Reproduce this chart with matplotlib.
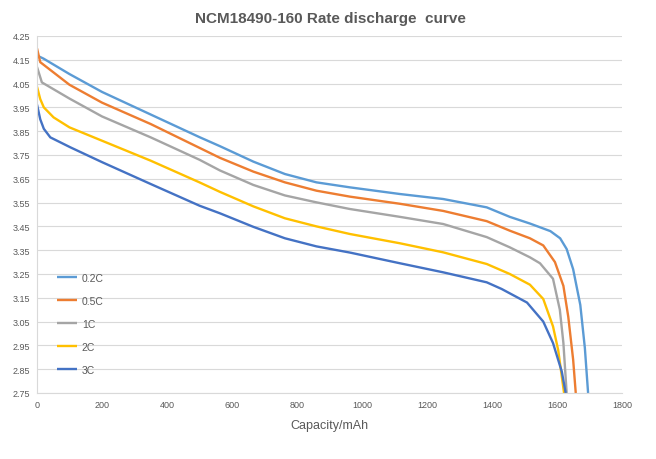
import numpy as np
import matplotlib
matplotlib.use("Agg")
import matplotlib.pyplot as plt

plt.rcParams['font.family'] = ['Liberation Sans', 'DejaVu Sans']

# ---------------------------------------------------------------------------
# Data (capacity in mAh, voltage in V)
# ---------------------------------------------------------------------------

cap_02c = [0, 20, 100, 200, 350, 500, 563, 666, 763, 860, 963, 1117, 1250,
           1384, 1455, 1517, 1580, 1610, 1630, 1650, 1672, 1686, 1696]
v_02c = [4.168, 4.155, 4.09, 4.015, 3.92, 3.825, 3.787, 3.722, 3.67, 3.635,
         3.614, 3.586, 3.565, 3.53, 3.49, 3.462, 3.43, 3.40, 3.355, 3.27,
         3.12, 2.94, 2.75]

cap_05c = [0, 10, 100, 200, 350, 500, 563, 666, 763, 860, 963, 1117, 1250,
           1384, 1455, 1517, 1558, 1594, 1620, 1635, 1650, 1658]
v_05c = [4.198, 4.14, 4.045, 3.97, 3.88, 3.78, 3.738, 3.68, 3.635, 3.60,
         3.575, 3.545, 3.515, 3.472, 3.432, 3.40, 3.37, 3.30, 3.20, 3.07,
         2.89, 2.75]

cap_1c = [0, 15, 100, 200, 350, 500, 563, 666, 763, 860, 963, 1117, 1250,
          1384, 1455, 1517, 1548, 1588, 1609, 1620, 1630]
v_1c = [4.12, 4.055, 3.987, 3.912, 3.824, 3.73, 3.685, 3.624, 3.58, 3.551,
        3.523, 3.49, 3.46, 3.405, 3.362, 3.32, 3.295, 3.23, 3.10, 2.96, 2.75]

cap_2c = [0, 10, 21, 51, 100, 200, 350, 500, 563, 666, 763, 860, 963, 1117,
          1250, 1384, 1455, 1517, 1558, 1588, 1604, 1622]
v_2c = [4.037, 3.985, 3.95, 3.908, 3.866, 3.81, 3.726, 3.635, 3.595, 3.534,
        3.484, 3.45, 3.418, 3.379, 3.341, 3.292, 3.25, 3.205, 3.145, 3.03,
        2.93, 2.75]

cap_3c = [0, 10, 21, 41, 103, 200, 350, 500, 563, 666, 763, 860, 963, 1117,
          1250, 1384, 1430, 1508, 1558, 1588, 1615, 1627]
v_3c = [3.962, 3.90, 3.86, 3.824, 3.782, 3.72, 3.628, 3.537, 3.505, 3.448,
        3.40, 3.366, 3.34, 3.295, 3.257, 3.215, 3.187, 3.13, 3.05, 2.96,
        2.84, 2.75]

labels = ["0.2C", "0.5C", "1C", "2C", "3C"]
colors = ["#5B9BD5", "#ED7D31", "#A5A5A5", "#FFC000", "#4472C4"]

x_ticks = np.arange(0, 1801, 200)
y_ticks = np.arange(2.75, 4.26, 0.1)

# ---------------------------------------------------------------------------
# Plot
# ---------------------------------------------------------------------------

fig = plt.figure(figsize=(6.56, 4.60), dpi=100)
ax = fig.add_axes([0.0564, 0.1435, 0.8916, 0.7761])

series = [(cap_02c, v_02c), (cap_05c, v_05c), (cap_1c, v_1c),
          (cap_2c, v_2c), (cap_3c, v_3c)]
for (cap, v), lab, col in zip(series, labels, colors):
    ax.plot(cap, v, color=col, linewidth=1.7, label=lab,
            solid_joinstyle='round', solid_capstyle='butt')

ax.set_xlim(0, 1800)
ax.set_ylim(2.75, 4.25)
ax.set_xticks(x_ticks)
ax.set_yticks(y_ticks)
ax.set_yticklabels([f"{t:.2f}" for t in y_ticks])
ax.tick_params(length=0, labelsize=6.5, labelcolor="#595959", pad=5)

ax.grid(axis='y', color="#D9D9D9", linewidth=0.8)
ax.set_axisbelow(True)
for side in ['top', 'right']:
    ax.spines[side].set_visible(False)
for side in ['left', 'bottom']:
    ax.spines[side].set_color("#D9D9D9")
    ax.spines[side].set_linewidth(0.8)

ax.set_xlabel("Capacity/mAh", fontsize=9, color="#595959", labelpad=7)
fig.suptitle("NCM18490-160 Rate discharge  curve", fontsize=11,
             fontweight='bold', color="#595959", x=0.503, y=0.975)

ax.legend(loc='upper left', bbox_to_anchor=(0.034, 0.337), frameon=False,
          fontsize=7.5, labelcolor="#595959", handlelength=1.9,
          handletextpad=0.5, labelspacing=1.25, borderpad=0,
          borderaxespad=0)

fig.savefig("out.png", dpi=100)
